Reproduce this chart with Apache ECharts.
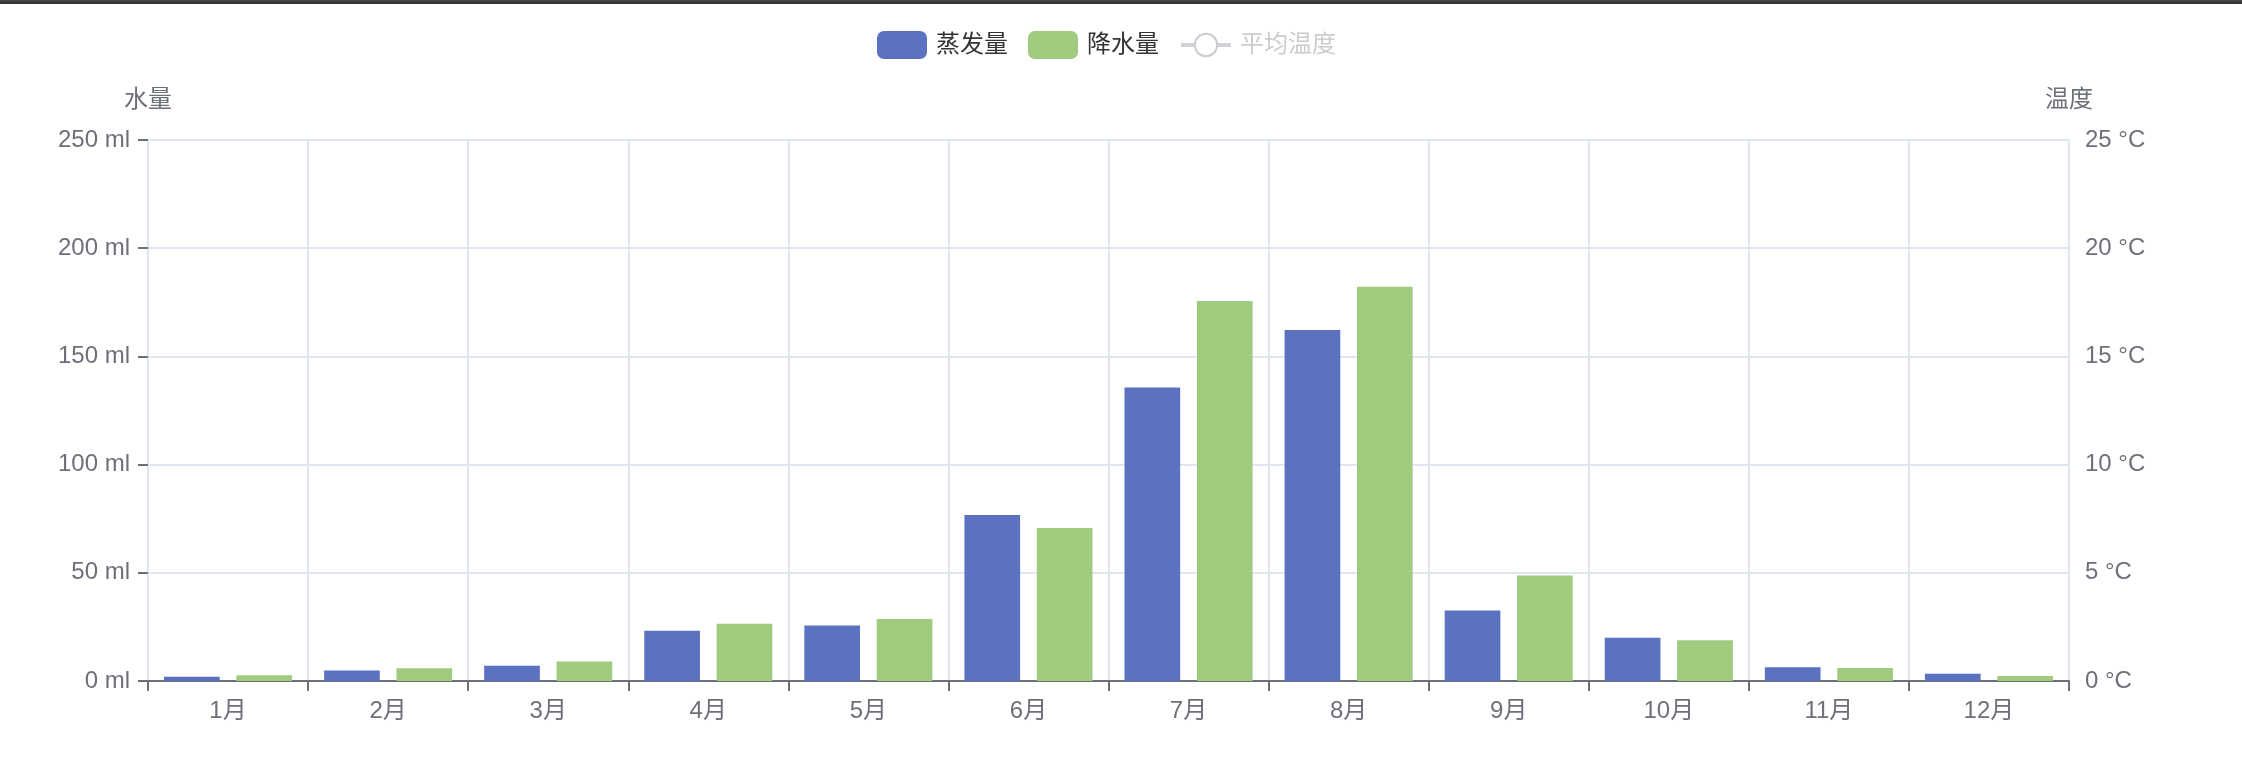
<!DOCTYPE html>
<html>
<head>
<meta charset="utf-8">
<title>蒸发量与降水量</title>
<script src="https://cdn.jsdelivr.net/npm/echarts@6/dist/echarts.min.js"></script>
<style>
    html, body { margin: 0; padding: 0; background: #fff; }
    #main { position: absolute; left: 0; top: 0; width: 2242px; height: 772px; }
    #topbar { position: absolute; left: 0; top: 0; width: 2242px; height: 4px;
              background: linear-gradient(#4a4a4a, #2e2e2e); z-index: 2; }
</style>
</head>
<body>
<div id="topbar"></div>
<div id="main"></div>
<script>
    // 数据
    var months = ['1月', '2月', '3月', '4月', '5月', '6月', '7月', '8月', '9月', '10月', '11月', '12月'];
    var evaporation = [2.0, 4.9, 7.0, 23.2, 25.6, 76.7, 135.6, 162.2, 32.6, 20.0, 6.4, 3.3];
    var precipitation = [2.6, 5.9, 9.0, 26.4, 28.7, 70.7, 175.6, 182.2, 48.7, 18.8, 6.0, 2.3];
    var temperature = [2.0, 2.2, 3.3, 4.5, 6.3, 10.2, 20.3, 23.4, 23.0, 16.5, 12.0, 6.2];
    var seriesNames = ['蒸发量', '降水量', '平均温度'];
    var waterUnit = ' ml';
    var tempUnit = ' °C';

    var font = "'Liberation Sans', 'Noto Sans CJK SC', sans-serif";
    var axisColor = '#6E7079';
    var splitColor = '#E0E6F1';

    var chart = echarts.init(document.getElementById('main'));

    var option = {
        color: ['#5a72c0', '#a0ca7e', '#fac858'],
        textStyle: { fontFamily: font },
        legend: {
            data: seriesNames,
            top: 31,
            left: 877,
            padding: 0,
            itemWidth: 50,
            itemHeight: 28,
            itemGap: 20,
            inactiveColor: '#ccc',
            itemStyle: { inactiveBorderWidth: 4 },
            lineStyle: { inactiveWidth: 4 },
            selected: { '平均温度': false },
            textStyle: { fontSize: 24, color: '#333', fontFamily: font, padding: [0, 0, 0, 4] }
        },
        grid: {
            left: 148,
            right: 173,
            top: 140,
            bottom: 91
        },
        xAxis: {
            type: 'category',
            data: months,
            axisLine: { lineStyle: { color: axisColor, width: 2 } },
            axisTick: { show: true, length: 10, lineStyle: { color: axisColor, width: 2 } },
            axisLabel: { fontSize: 24, color: axisColor, margin: 18, fontFamily: font },
            splitLine: { show: true, lineStyle: { color: splitColor, width: 2 } }
        },
        yAxis: [{
            type: 'value',
            name: '水量',
            min: 0,
            max: 250,
            interval: 50,
            nameGap: 28,
            nameTextStyle: { fontSize: 24, color: axisColor, fontFamily: font },
            axisLine: { show: false },
            axisTick: { show: true, length: 10, lineStyle: { color: axisColor, width: 2 } },
            axisLabel: {
                fontSize: 24, color: axisColor, margin: 18, fontFamily: font,
                formatter: function (v) { return v + waterUnit; }
            },
            splitLine: { lineStyle: { color: splitColor, width: 2 } }
        }, {
            type: 'value',
            name: '温度',
            min: 0,
            max: 25,
            interval: 5,
            nameGap: 28,
            nameTextStyle: { fontSize: 24, color: axisColor, fontFamily: font },
            axisLine: { show: false },
            axisTick: { show: false },
            axisLabel: {
                fontSize: 24, color: axisColor, margin: 16, fontFamily: font,
                formatter: function (v) { return v + tempUnit; }
            },
            splitLine: { lineStyle: { color: splitColor, width: 2 } }
        }],
        series: [{
            name: seriesNames[0],
            type: 'bar',
            barGap: '30%',
            barCategoryGap: '20%',
            data: evaporation
        }, {
            name: seriesNames[1],
            type: 'bar',
            barGap: '30%',
            barCategoryGap: '20%',
            data: precipitation
        }, {
            name: seriesNames[2],
            type: 'line',
            yAxisIndex: 1,
            symbol: 'emptyCircle',
            symbolSize: 16,
            lineStyle: { width: 4 },
            itemStyle: { borderWidth: 4 },
            data: temperature
        }]
    };

    chart.setOption(option);
</script>
</body>
</html>
